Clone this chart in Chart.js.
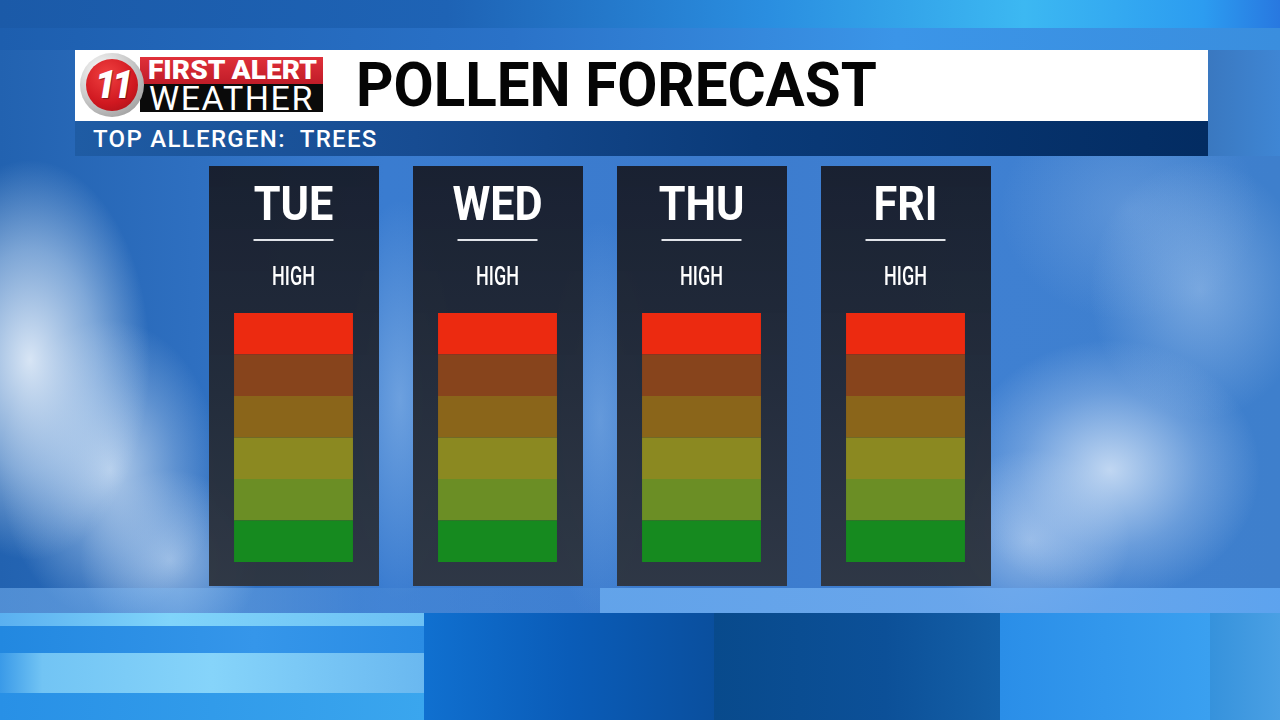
<!DOCTYPE html>
<html>
<head>
<meta charset="utf-8">
<script src="https://cdn.jsdelivr.net/npm/chart.js@4.4.1/dist/chart.umd.min.js"></script>
<style>
  html, body { margin:0; padding:0; width:1280px; height:720px; overflow:hidden; }
  body { position:relative; font-family: Roboto, "Noto Sans", sans-serif;
    background:
      radial-gradient(ellipse 120px 200px at 30px 360px, rgba(235,243,252,0.9), rgba(215,232,250,0.5) 55%, rgba(190,215,245,0) 100%),
      radial-gradient(ellipse 110px 150px at 110px 470px, rgba(225,238,252,0.75), rgba(205,226,250,0.3) 60%, rgba(200,225,250,0) 100%),
      radial-gradient(ellipse 90px 90px at 170px 560px, rgba(215,232,250,0.6), rgba(200,225,250,0) 100%),
      radial-gradient(ellipse 150px 130px at 1110px 470px, rgba(215,230,248,0.85), rgba(185,210,242,0.35) 60%, rgba(150,190,240,0) 100%),
      radial-gradient(ellipse 100px 90px at 1030px 540px, rgba(200,220,245,0.6), rgba(150,190,240,0) 100%),
      radial-gradient(ellipse 110px 130px at 1200px 290px, rgba(175,205,240,0.5), rgba(150,190,240,0) 100%),
      radial-gradient(ellipse 130px 110px at 1130px 210px, rgba(140,180,230,0.4), rgba(150,190,240,0) 100%),
      radial-gradient(ellipse 60px 200px at 400px 400px, rgba(150,190,235,0.55), rgba(150,185,230,0) 100%),
      radial-gradient(ellipse 60px 200px at 600px 420px, rgba(150,190,235,0.45), rgba(150,185,230,0) 100%),
      linear-gradient(90deg, #2262b0 0%, #3a7cd0 30%, #3c7bcd 55%, #3f80d2 75%, #3e7fcc 100%);
  }
  .blk { position:absolute; }
  #chartWrap { position:absolute; left:0; top:0; width:1280px; height:720px; }
  .title { position:absolute; left:356px; top:52px; font: 700 62px Roboto, sans-serif; color:#050505;
           line-height:66px; transform-origin:left top; transform: scaleX(0.94); white-space:nowrap; }
  .sub { position:absolute; left:93px; top:122px; font: 500 24px Roboto, sans-serif; color:#fff; line-height:34px;
         letter-spacing:1.3px; white-space:nowrap; }
</style>
</head>
<body>
<!-- background blocks -->
<div class="blk" style="left:0;top:0;width:1280px;height:28px;background:linear-gradient(90deg,#1b5aa8 0%,#1e63b5 35%,#2a8ee0 60%,#3cb8f2 80%,#2c9cf0 94%,#2878e0 100%);"></div>
<div class="blk" style="left:0;top:28px;width:1280px;height:22px;background:linear-gradient(90deg,#1d5eae 0%,#2a72c8 40%,#3b95e8 70%,#3a8ede 100%);"></div>
<div class="blk" style="left:1208px;top:50px;width:72px;height:106px;background:linear-gradient(90deg,#3a78c0,#3f86d4);"></div>
<div class="blk" style="left:0;top:588px;width:600px;height:25px;background:linear-gradient(90deg,rgba(110,170,235,0.6),rgba(130,185,240,0.5) 30%,rgba(80,145,220,0.4) 60%,rgba(70,135,215,0.3) 100%);"></div>
<div class="blk" style="left:600px;top:588px;width:680px;height:25px;background:linear-gradient(90deg,rgba(100,165,235,0.95),rgba(110,170,238,0.9) 60%,rgba(95,165,240,0.95) 100%);"></div>
<div class="blk" style="left:0;top:613px;width:424px;height:13px;background:linear-gradient(90deg,#5ab0f0,#80d4fa 40%,#6cc0f4 100%);"></div>
<div class="blk" style="left:0;top:626px;width:424px;height:27px;background:linear-gradient(90deg,#2288e0,#3596ea 60%,#2a8ce4);"></div>
<div class="blk" style="left:0;top:653px;width:424px;height:40px;background:linear-gradient(90deg,#3a9ae8 0%,#72c4f4 10%,#86d4fa 50%,#6ab8f0 100%);"></div>
<div class="blk" style="left:0;top:693px;width:424px;height:27px;background:linear-gradient(90deg,#2890e6,#3aa6ee);"></div>
<div class="blk" style="left:424px;top:613px;width:290px;height:107px;background:linear-gradient(90deg,#1070d0,#0a5cb8 50%,#0a4f9e 100%);"></div>
<div class="blk" style="left:714px;top:613px;width:286px;height:107px;background:linear-gradient(90deg,#084a8c,#0c5098 60%,#1460a8 100%);"></div>
<div class="blk" style="left:1000px;top:613px;width:210px;height:107px;background:linear-gradient(90deg,#2a8ee8,#3aa0f0);"></div>
<div class="blk" style="left:1210px;top:613px;width:70px;height:107px;background:linear-gradient(90deg,#3692dc,#4aa0e4);"></div>

<!-- header -->
<div class="blk" style="left:75px;top:50px;width:1133px;height:71px;background:#ffffff;"></div>
<div class="blk" style="left:75px;top:121px;width:1133px;height:35px;background:linear-gradient(90deg,#1f5ca4 0%,#174c92 30%,#0a3a78 60%,#032c62 100%);"></div>
<div class="title">POLLEN FORECAST</div>
<div class="sub">TOP ALLERGEN:&nbsp; TREES</div>

<!-- logo -->
<div class="blk" style="left:140px;top:57px;width:183px;height:27px;background:linear-gradient(180deg,#e0303a,#c01c28);"></div>
<div class="blk" style="left:140px;top:84px;width:183px;height:28px;background:#0a0a0a;"></div>
<div class="blk" style="left:148px;top:55px;font:900 26px Roboto,sans-serif;color:#fff;line-height:30px;transform-origin:left top;transform:scaleX(1.08);white-space:nowrap;">FIRST ALERT</div>
<div class="blk" style="left:149px;top:80px;font:400 34px Roboto,sans-serif;color:#fff;line-height:36px;letter-spacing:1.5px;white-space:nowrap;">WEATHER</div>
<div class="blk" style="left:80px;top:53px;width:64px;height:64px;border-radius:50%;background:radial-gradient(circle at 35% 30%,#ffffff,#c8c8c8 50%,#8a8a8a 100%);"></div>
<div class="blk" style="left:86px;top:59px;width:52px;height:52px;border-radius:50%;background:radial-gradient(circle at 40% 30%,#f04040,#d01820 60%,#a01018 100%);"></div>
<div class="blk" style="left:90px;top:61px;width:44px;text-align:center;font:italic 900 38px Roboto,sans-serif;color:#fff;line-height:48px;letter-spacing:-4px;text-shadow:1px 1px 1px rgba(0,0,0,0.4);">11</div>

<div id="chartWrap"><canvas id="c" width="1280" height="720"></canvas></div>

<script>
// ---- data ----
const days = ['TUE', 'WED', 'THU', 'FRI'];
const levelText = ['HIGH', 'HIGH', 'HIGH', 'HIGH'];
const levelValue = [6, 6, 6, 6];          // number of lit segments (out of 6)
const segmentNames = ['Low', 'Low-Moderate', 'Moderate', 'Moderate-High', 'High-Moderate', 'High'];
const segmentColors = ['#168a1f', '#6b8e25', '#8b8921', '#8a651a', '#87441c', '#ec2a10'];

const datasets = segmentNames.map((name, i) => ({
  label: name,
  data: levelValue.map(v => (v >= i + 1 ? 1 : 0)),
  backgroundColor: segmentColors[i],
  borderWidth: 0,
  barPercentage: 0.583,
  categoryPercentage: 1.0,
  stack: 'pollen'
}));

const panelPlugin = {
  id: 'panels',
  beforeDatasetsDraw(chart) {
    const { ctx, chartArea, scales } = chart;
    const xs = scales.x;
    const half = xs.width / days.length * 0.833 / 2;
    ctx.save();
    days.forEach((d, i) => {
      const cx = xs.getPixelForValue(i);
      const g = ctx.createLinearGradient(0, chartArea.top, 0, chartArea.bottom);
      g.addColorStop(0, 'rgba(24,30,44,0.97)');
      g.addColorStop(0.5, 'rgba(34,40,52,0.95)');
      g.addColorStop(1, 'rgba(46,52,62,0.95)');
      ctx.fillStyle = g;
      ctx.fillRect(Math.round(cx - half), chartArea.top, Math.round(half * 2), chartArea.bottom - chartArea.top);
    });
    ctx.restore();
  },
  afterDatasetsDraw(chart) {
    const { ctx, chartArea, scales } = chart;
    const xs = scales.x;
    ctx.save();
    ctx.fillStyle = '#ffffff';
    ctx.textAlign = 'center';
    ctx.textBaseline = 'alphabetic';
    days.forEach((d, i) => {
      const cx = xs.getPixelForValue(i);
      ctx.save();
      ctx.translate(cx, chartArea.top + 54);
      ctx.scale(0.9, 1);
      ctx.font = '700 48px Roboto, sans-serif';
      ctx.fillText(d, 0, 0);
      ctx.restore();
      ctx.fillStyle = 'rgba(235,238,242,0.95)';
      ctx.fillRect(cx - 40, chartArea.top + 73, 80, 2);
      ctx.fillStyle = '#ffffff';
      ctx.save();
      ctx.translate(cx, chartArea.top + 119);
      ctx.scale(0.72, 1);
      ctx.font = '500 25px Roboto, sans-serif';
      ctx.fillText(levelText[i], 0, 0);
      ctx.restore();
    });
    ctx.restore();
  }
};

new Chart(document.getElementById('c'), {
  type: 'bar',
  data: { labels: days, datasets },
  options: {
    responsive: false,
    animation: false,
    devicePixelRatio: 1,
    layout: { padding: { left: 191.5, right: 272.5, top: 166, bottom: 134 } },
    plugins: { legend: { display: false }, tooltip: { enabled: false } },
    scales: {
      x: { stacked: true, display: false, grid: { display: false } },
      y: { stacked: true, display: false, min: -0.578, max: 9.542, grid: { display: false } }
    }
  },
  plugins: [panelPlugin]
});
</script>
</body>
</html>
